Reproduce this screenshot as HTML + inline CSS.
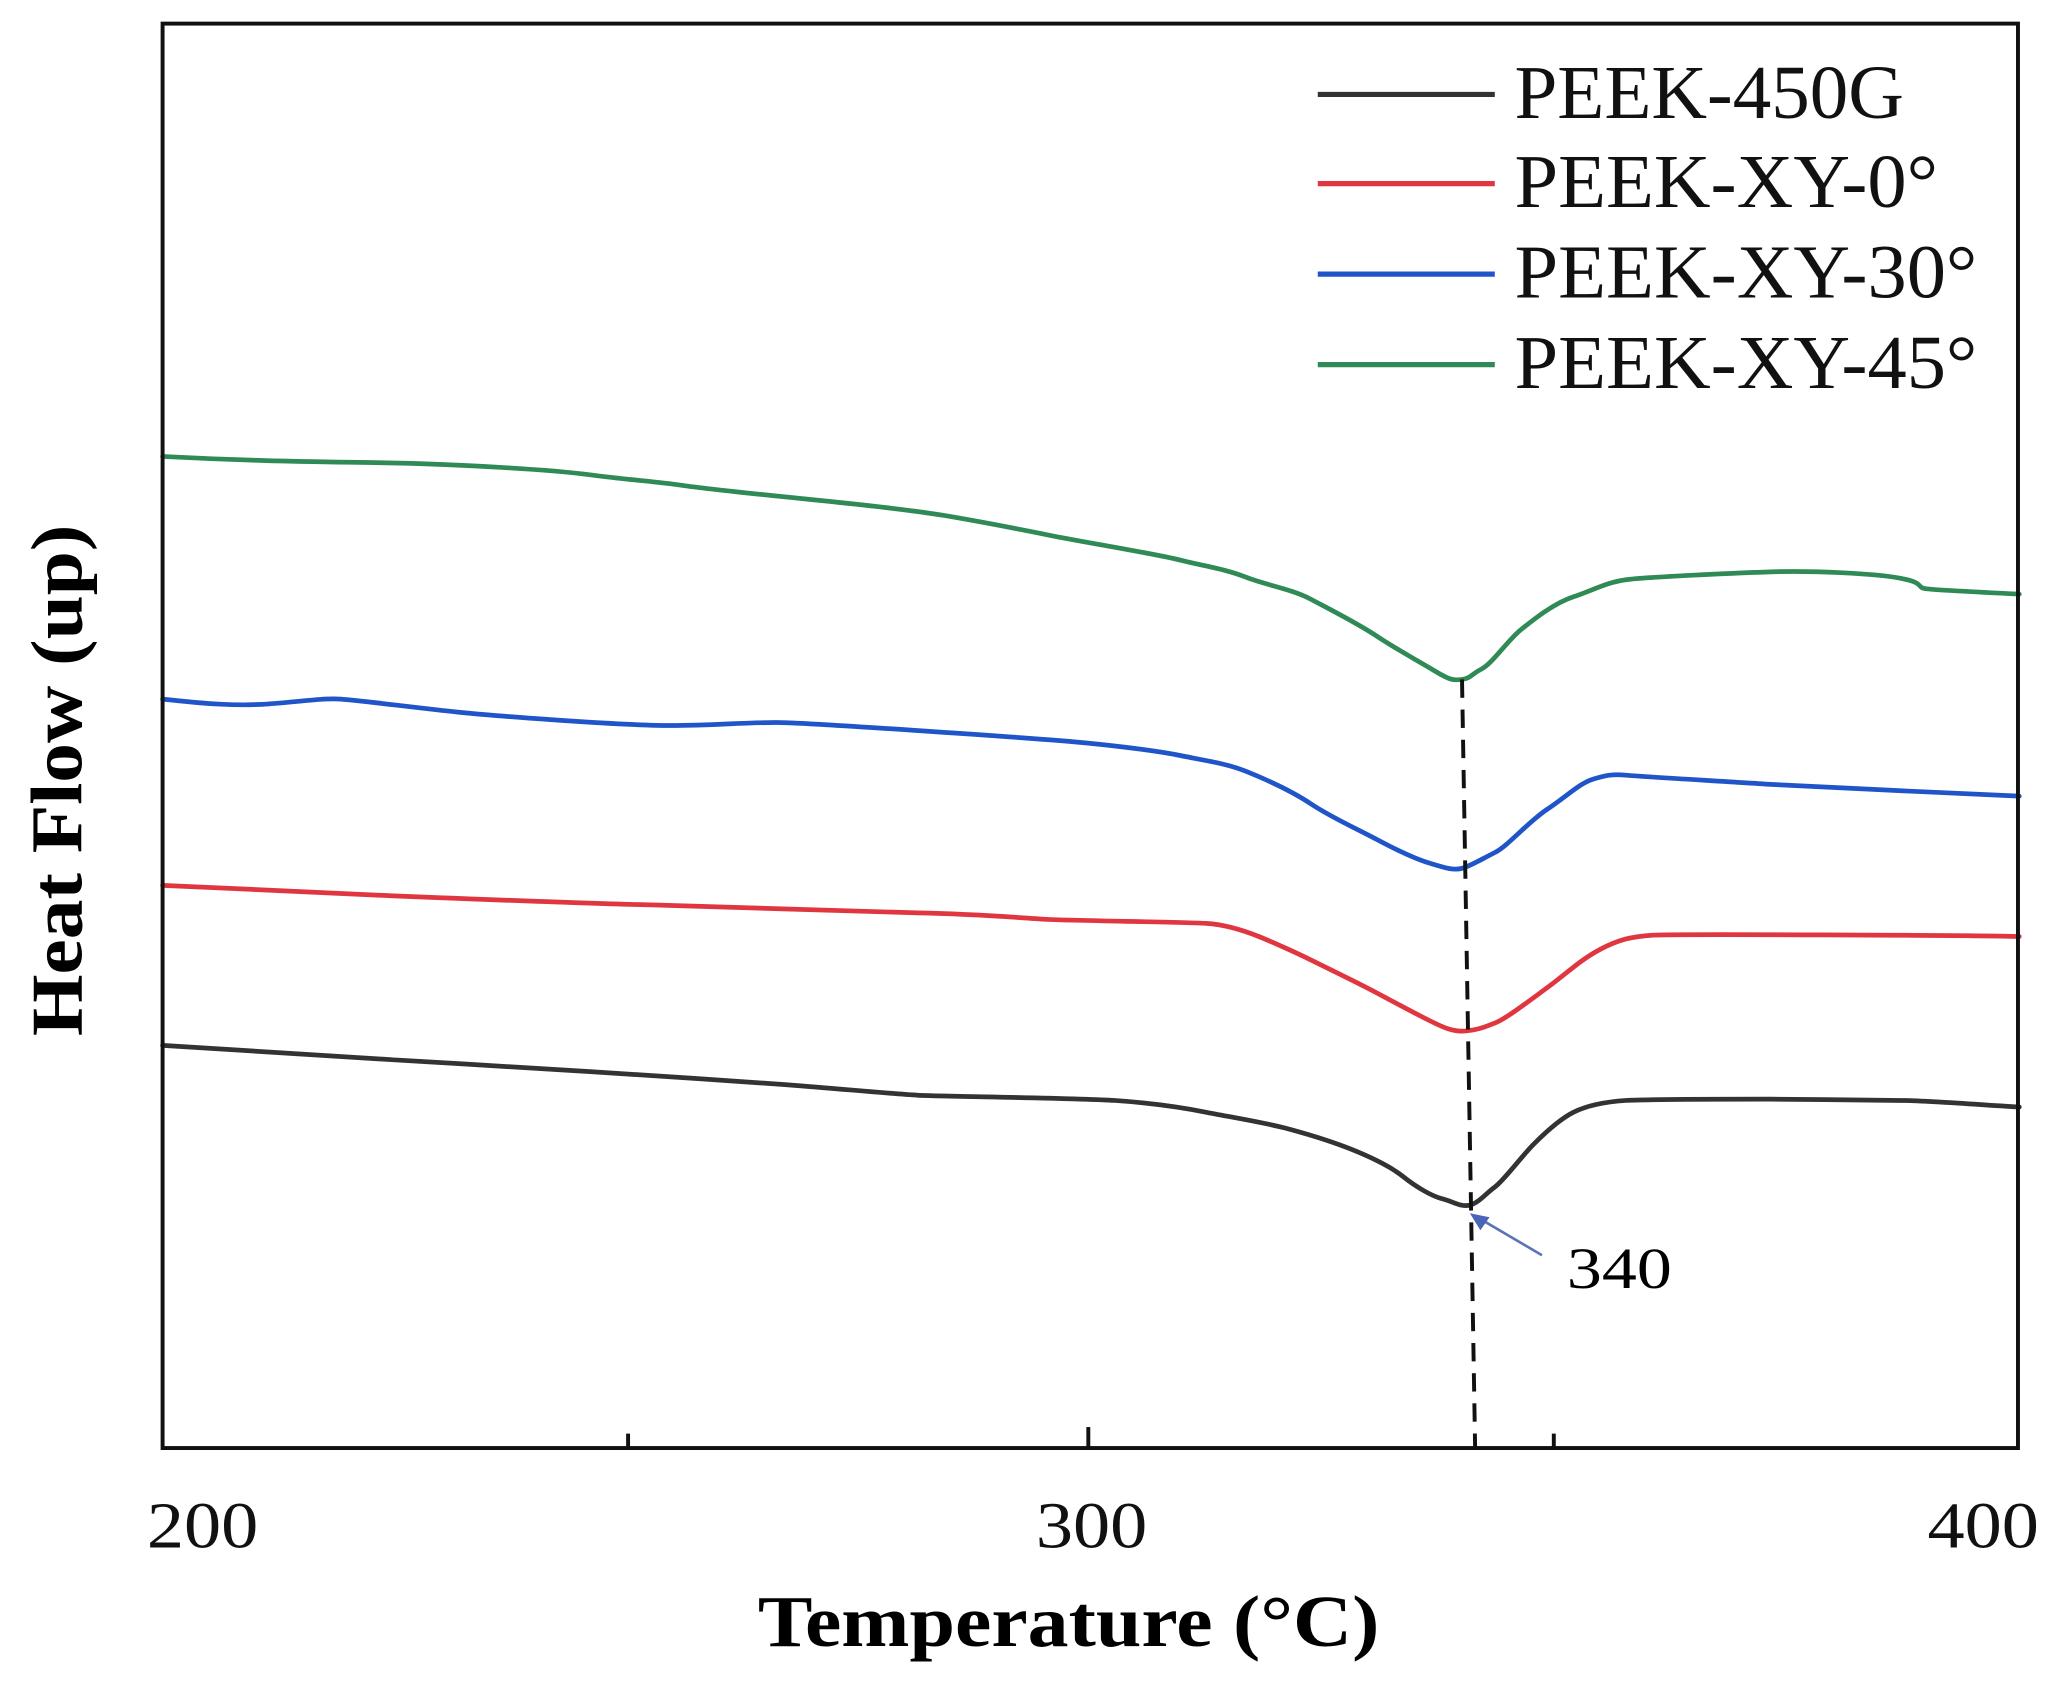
<!DOCTYPE html>
<html><head><meta charset="utf-8"><style>html,body{margin:0;padding:0;background:#fff}svg{display:block}</style></head>
<body>
<svg width="2056" height="1692" viewBox="0 0 1568 1290" preserveAspectRatio="none" xmlns="http://www.w3.org/2000/svg" font-family="'Liberation Serif', serif">
<rect width="1568" height="1290" fill="#fff"/>
<g fill="none" stroke-width="3.6" stroke-linejoin="round" stroke-linecap="round">
<path stroke="#2f8a55" d="M124,348 C200,352 250,352 300,353 S420,358 450,362 S500,367 520,370 S590,378 620,381 S690,388 720,393 S770,402 800,408 S880,422 900,427 S935,434 950,440 S985,449 1000,457 S1035,475 1050,485 S1085,506 1095,512 S1108,519 1115,518 S1122,514 1130,510 S1150,488 1160,480 S1185,460 1200,455 S1225,444 1240,442 S1320,437 1350,436 S1430,437 1450,441 S1460,448 1470,449 S1520,452 1540,453"/>
<path stroke="#1f55c8" d="M124,533 C160,537 180,538 200,537 S245,532 260,533 S320,540 350,543 S460,552 500,553 S570,550 600,551 S760,561 800,564 S880,572 900,576 S935,582 950,588 S985,603 1000,613 S1035,632 1050,640 S1080,655 1090,658 S1108,664 1115,662 S1130,655 1140,650 S1165,627 1180,617 S1205,597 1215,594 S1230,590 1240,591 S1320,596 1350,598 S1500,605 1540,607"/>
<path stroke="#e0363f" d="M124,675 C200,679 250,681 300,683 S450,689 500,690 S650,695 700,696 S780,700 800,701 S905,703 920,704 S950,710 960,714 S990,727 1000,732 S1035,749 1050,757 S1080,773 1090,778 S1108,787 1118,786 S1132,783 1140,780 S1165,764 1180,753 S1205,732 1220,724 S1245,714 1260,713 S1500,713 1540,714"/>
<path stroke="#333" d="M124,797 C200,802 250,805 300,808 S420,815 450,817 S560,824 600,827 S680,834 700,835 S820,837 850,839 S905,845 920,848 S965,856 980,860 S1015,870 1030,876 S1060,889 1070,897 S1092,912 1100,914 S1113,920 1120,919 S1133,910 1140,905 S1160,882 1170,872 S1190,853 1200,848 S1225,840 1240,839 S1320,838 1350,838 S1430,839 1450,839 S1520,843 1540,844"/>
</g>
<line x1="1115" y1="518" x2="1125" y2="1104" stroke="#111" stroke-width="3" stroke-dasharray="14,9"/>
<line x1="1176" y1="957" x2="1130" y2="930" stroke="#5b74b8" stroke-width="2"/>
<polygon points="1121,925 1136,928 1129,938" fill="#4a65b8"/>
<text x="1195" y="982" font-size="44" textLength="80" lengthAdjust="spacingAndGlyphs">340</text>
<rect x="124" y="18" width="1415" height="1086" fill="none" stroke="#111" stroke-width="3"/>
<g stroke="#111" stroke-width="3"><line x1="479" y1="1104" x2="479" y2="1093"/><line x1="830" y1="1104" x2="830" y2="1088"/><line x1="1185" y1="1104" x2="1185" y2="1093"/></g>
<g font-size="50" fill="#111">
<text x="112" y="1180" textLength="85" lengthAdjust="spacingAndGlyphs">200</text>
<text x="790" y="1180" textLength="85" lengthAdjust="spacingAndGlyphs">300</text>
<text x="1470" y="1180" textLength="85" lengthAdjust="spacingAndGlyphs">400</text>
</g>
<text x="578" y="1255" font-size="56" font-weight="bold" textLength="474" lengthAdjust="spacingAndGlyphs">Temperature (°C)</text>
<text transform="translate(62,790) rotate(-90)" font-size="56" font-weight="bold" textLength="390" lengthAdjust="spacingAndGlyphs">Heat Flow (up)</text>
<g stroke-width="4">
<line x1="1005" y1="72" x2="1140" y2="72" stroke="#333"/>
<line x1="1005" y1="140" x2="1140" y2="140" stroke="#e0363f"/>
<line x1="1005" y1="209" x2="1140" y2="209" stroke="#1f55c8"/>
<line x1="1005" y1="278" x2="1140" y2="278" stroke="#2f8a55"/>
</g>
<g font-size="58" fill="#111">
<text x="1155" y="90" textLength="297" lengthAdjust="spacingAndGlyphs">PEEK-450G</text>
<text x="1155" y="158" textLength="323" lengthAdjust="spacingAndGlyphs">PEEK-XY-0°</text>
<text x="1155" y="227" textLength="353" lengthAdjust="spacingAndGlyphs">PEEK-XY-30°</text>
<text x="1155" y="296" textLength="353" lengthAdjust="spacingAndGlyphs">PEEK-XY-45°</text>
</g>
</svg>
</body></html>
